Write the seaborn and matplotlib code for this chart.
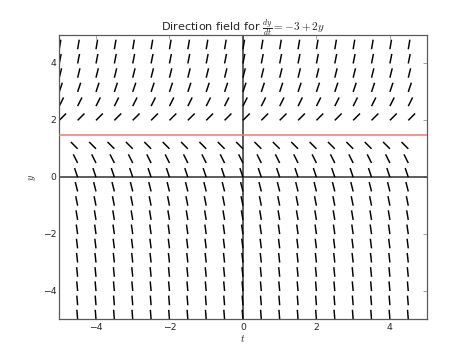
import numpy as np
import pandas as pd
import matplotlib
matplotlib.use("Agg")
import matplotlib.pyplot as plt
import seaborn as sns

# grid of sample points for the direction field
t_vals = [-5.0, -4.5, -4.0, -3.5, -3.0, -2.5, -2.0, -1.5, -1.0, -0.5,
          0.0, 0.5, 1.0, 1.5, 2.0, 2.5, 3.0, 3.5, 4.0, 4.5]
y_vals = [-5.0, -4.5, -4.0, -3.5, -3.0, -2.5, -2.0, -1.5, -1.0, -0.5,
          0.0, 0.5, 1.0, 1.5, 2.0, 2.5, 3.0, 3.5, 4.0, 4.5]
# ODE dy/dt = a + b*y
a_coef = -3.0
b_coef = 2.0
equilibrium = [1.5]
x_ticks = [-4, -2, 0, 2, 4]
y_ticks = [-4, -2, 0, 2, 4]

plt.style.use("classic")
sns.set_style("white", {"axes.edgecolor": "0.35"})
plt.rcParams["mathtext.fontset"] = "cm"
plt.rcParams["font.family"] = ["DejaVu Sans"]

fig = plt.figure(figsize=(6.4, 4.8), dpi=74.07)
ax = fig.add_axes([0.125, 0.1, 0.775, 0.8])

T, Y = np.meshgrid(t_vals, y_vals)
S = a_coef + b_coef * Y
N = np.sqrt(1 + S ** 2)
sgn = np.sign(S)
U = np.where(S == 0, np.nan, sgn / N)
V = np.where(S == 0, np.nan, np.abs(S) / N)

ax.quiver(T, Y, U, V, pivot="tail", angles="uv", scale_units="width",
          scale=38, width=0.004, headwidth=0, headlength=0,
          headaxislength=0, color="k", zorder=2)

line_df = pd.DataFrame({"t": [-5, 5], "y": [equilibrium[0]] * 2})
sns.lineplot(data=line_df, x="t", y="y", color="#f07878", linewidth=1.5,
             ax=ax, zorder=3)
ax.axhline(0, color="0.2", linewidth=1.5, zorder=1)
ax.axvline(0, color="0.2", linewidth=1.5, zorder=1)

ax.set_xlim(-5, 5)
ax.set_ylim(-5, 5)
ax.set_xticks(x_ticks)
ax.set_yticks(y_ticks)
ax.set_xticklabels(["\u22124", "\u22122", "0", "2", "4"])
ax.set_yticklabels(["\u22124", "\u22122", "0", "2", "4"])
ax.tick_params(direction="in", length=4, labelsize=9, colors="0.3",
               top=True, right=True, labelcolor="0.15", pad=3)
ax.set_xlabel("$t$", fontsize=10, labelpad=1)
ax.set_ylabel("$y$", fontsize=10, labelpad=4)
ax.set_title(r"Direction field for $\frac{dy}{dt} = -3+2y$", fontsize=11)
for s in ax.spines.values():
    s.set_linewidth(1.2)

fig.savefig("out.png", dpi=74.07)
